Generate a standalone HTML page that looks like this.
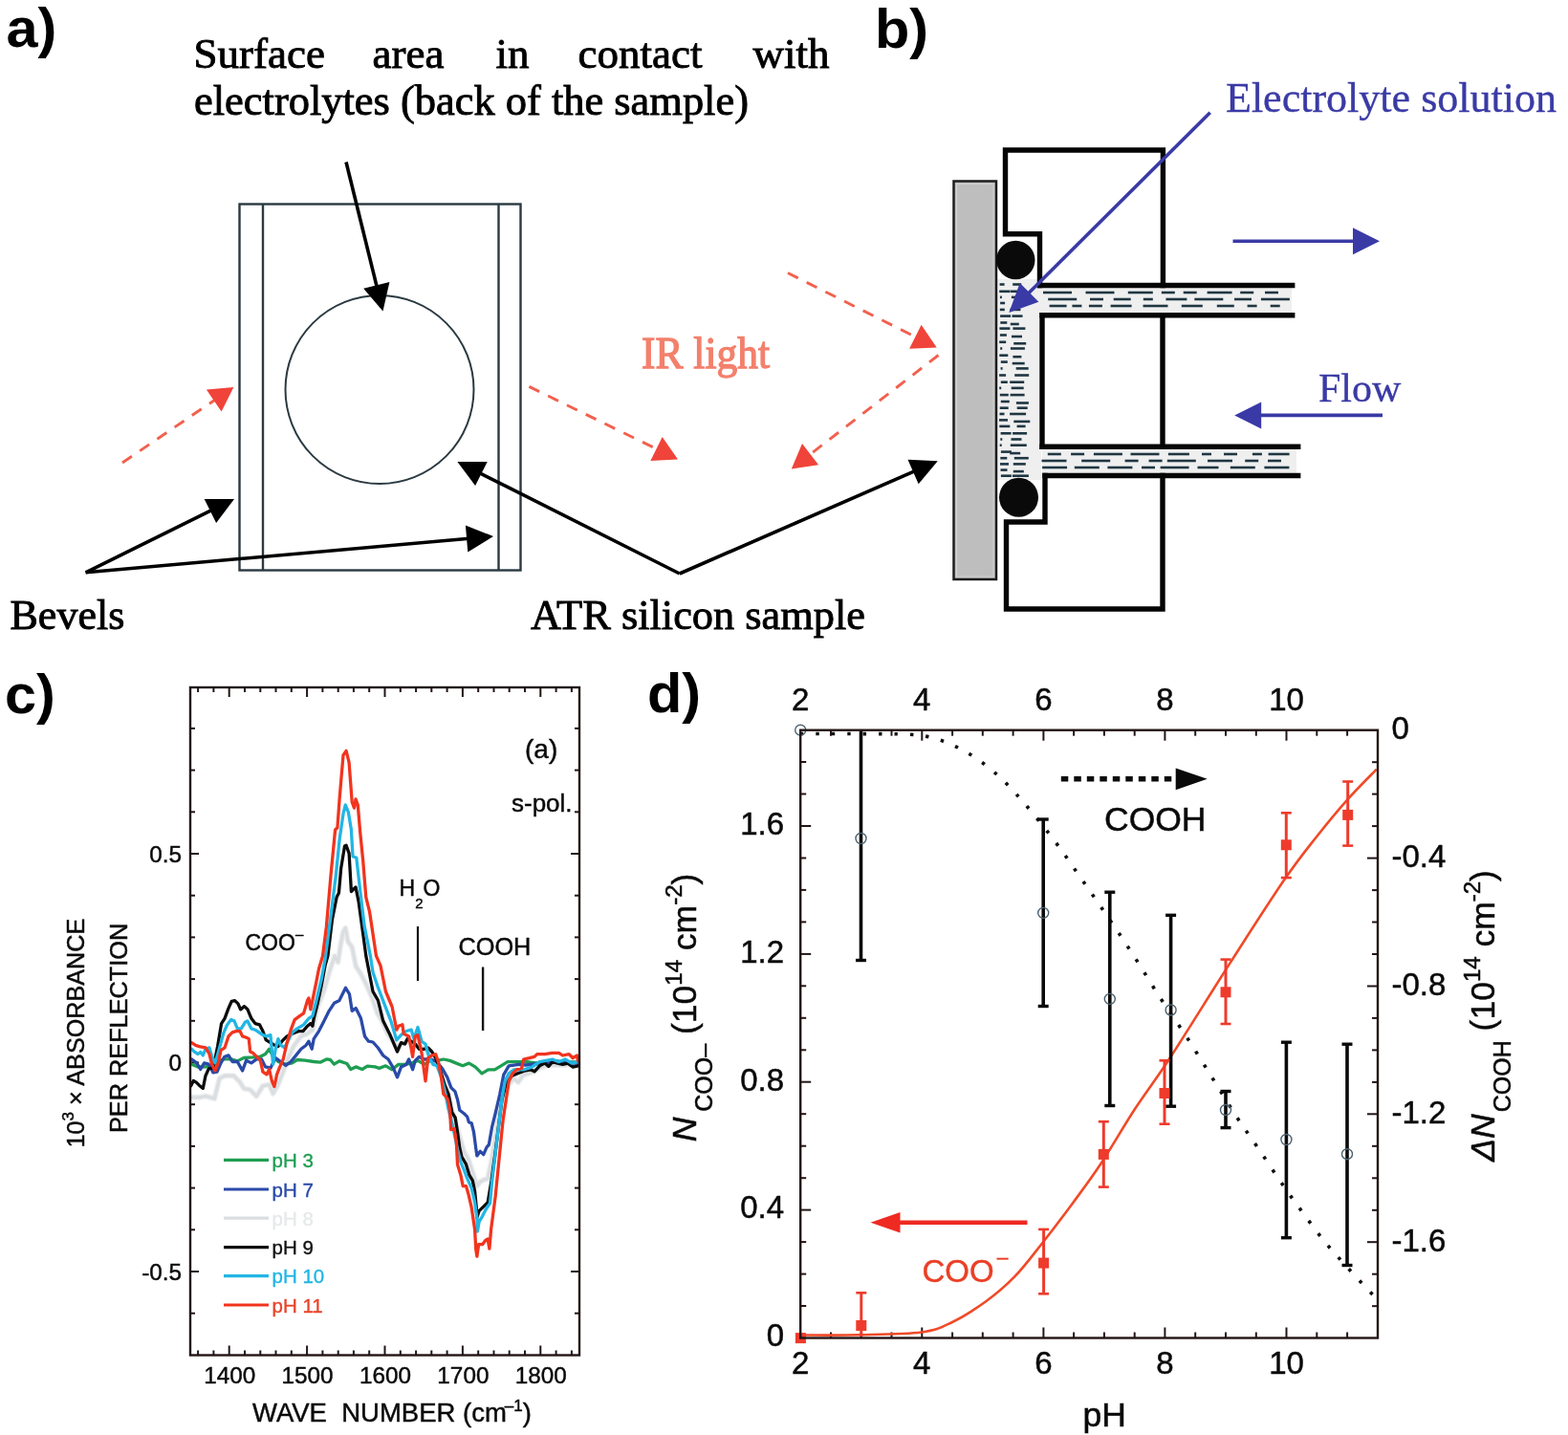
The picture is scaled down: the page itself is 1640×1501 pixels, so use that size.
<!DOCTYPE html>
<html><head><meta charset="utf-8"><title>Figure</title>
<style>
html,body{margin:0;padding:0;background:#fff;}
svg{display:block;}
.ser{font-family:"Liberation Serif","Times New Roman",serif;}
.san{font-family:"Liberation Sans",Arial,Helvetica,sans-serif;}
.lab{font-family:"Liberation Sans",Arial,sans-serif;font-weight:bold;}
</style></head><body>
<svg width="1640" height="1501" viewBox="0 0 1640 1501">
<rect x="0" y="0" width="1640" height="1501" fill="#ffffff"/>
<text class="lab" transform="translate(6.5,49) scale(1.025,1)" font-size="58">a)</text>
<text class="lab" transform="translate(915,49.5) scale(1.025,1)" font-size="58">b)</text>
<text class="lab" transform="translate(5,745.6) scale(1.025,1)" font-size="58">c)</text>
<text class="lab" transform="translate(677,745.4) scale(1.025,1)" font-size="58">d)</text>
<g class="ser" fill="#000" stroke="#000" stroke-width="0.9">
<text x="202.5" y="71" font-size="45">Surface</text>
<text x="389.5" y="71" font-size="45">area</text>
<text x="518.5" y="71" font-size="45">in</text>
<text x="604.5" y="71" font-size="45">contact</text>
<text x="787.5" y="71" font-size="45">with</text>
<text x="203" y="120" font-size="45" textLength="580" lengthAdjust="spacingAndGlyphs">electrolytes (back of the sample)</text>
<text x="10.5" y="658.3" font-size="44">Bevels</text>
<text x="555" y="658" font-size="45" textLength="350" lengthAdjust="spacingAndGlyphs">ATR silicon sample</text>
</g>
<text class="ser" x="671" y="385" font-size="47" fill="#f3806c" stroke="#f3806c" stroke-width="1.3" textLength="134" lengthAdjust="spacingAndGlyphs">IR light</text>
<g fill="none" stroke="#2b3a42" stroke-width="2.4">
<rect x="250.5" y="213.5" width="294" height="383"/>
<line x1="275" y1="213.5" x2="275" y2="596.5"/>
<line x1="521.5" y1="213.5" x2="521.5" y2="596.5"/>
<circle cx="397" cy="407.5" r="98.5" stroke-width="2"/>
</g>
<line x1="362" y1="169.5" x2="395.8" y2="306.6" stroke="#000" stroke-width="3.6" />
<polygon points="400.5,325.6 380.2,301.8 407.4,295.1" fill="#000"/>
<line x1="89.6" y1="598.8" x2="227.4" y2="530.7" stroke="#000" stroke-width="3.6" />
<polygon points="245,522 226.1,547 213.7,521.9" fill="#000"/>
<line x1="89.6" y1="598.8" x2="496.5" y2="562.7" stroke="#000" stroke-width="3.6" />
<polygon points="516,561 489.3,577.4 486.9,549.5" fill="#000"/>
<line x1="710.8" y1="600" x2="495.9" y2="491.8" stroke="#000" stroke-width="3.6" />
<polygon points="478.4,483 509.7,483.1 497.1,508.1" fill="#000"/>
<line x1="710.8" y1="600" x2="962.8" y2="490.1" stroke="#000" stroke-width="3.6" />
<polygon points="980.8,482.3 960.7,506.3 949.5,480.7" fill="#000"/>
<line x1="128" y1="484" x2="229.9" y2="414.8" stroke="#f2604e" stroke-width="2.9" stroke-dasharray="12 10" />
<polygon points="244.4,405 231.6,430.6 215.9,407.5" fill="#f0443a"/>
<line x1="553.4" y1="404.4" x2="693.3" y2="472.8" stroke="#f2604e" stroke-width="2.9" stroke-dasharray="12 10" />
<polygon points="709,480.5 680.4,482.1 692.7,456.9" fill="#f0443a"/>
<line x1="824" y1="285.5" x2="964" y2="355.6" stroke="#f2604e" stroke-width="2.9" stroke-dasharray="12 10" />
<polygon points="979.7,363.4 951.1,364.7 963.6,339.7" fill="#f0443a"/>
<line x1="981.5" y1="371.5" x2="841.6" y2="479.7" stroke="#f2604e" stroke-width="2.9" stroke-dasharray="12 10" />
<polygon points="827.8,490.4 839,464 856.1,486.2" fill="#f0443a"/>
<rect x="1043" y="292" width="46" height="210" fill="#efefef"/>
<rect x="1087" y="300" width="264" height="28" fill="#efefef"/>
<rect x="1090" y="469" width="266" height="27" fill="#efefef"/>
<g stroke="#1f3642" stroke-width="2.6">
<line x1="1045.6" y1="297.5" x2="1050.6" y2="297.5"/>
<line x1="1059.2" y1="297.5" x2="1068.2" y2="297.5"/>
<line x1="1045.2" y1="304.8" x2="1056.2" y2="304.8"/>
<line x1="1056.5" y1="304.8" x2="1073.5" y2="304.8"/>
<line x1="1045.9" y1="310.9" x2="1047.9" y2="310.9"/>
<line x1="1057.9" y1="310.9" x2="1074.9" y2="310.9"/>
<line x1="1046.1" y1="317" x2="1051.1" y2="317"/>
<line x1="1061" y1="317" x2="1078" y2="317"/>
<line x1="1045.8" y1="323.9" x2="1050.8" y2="323.9"/>
<line x1="1056.4" y1="323.9" x2="1067.4" y2="323.9"/>
<line x1="1046.1" y1="330.6" x2="1057.1" y2="330.6"/>
<line x1="1058.5" y1="330.6" x2="1069.5" y2="330.6"/>
<line x1="1046.3" y1="337.5" x2="1053.3" y2="337.5"/>
<line x1="1056.8" y1="339" x2="1065.8" y2="339"/>
<line x1="1045.4" y1="343.6" x2="1056.4" y2="343.6"/>
<line x1="1059.4" y1="343.6" x2="1072.4" y2="343.6"/>
<line x1="1045.9" y1="350.5" x2="1052.9" y2="350.5"/>
<line x1="1058" y1="352" x2="1069" y2="352"/>
<line x1="1045.2" y1="357.8" x2="1052.2" y2="357.8"/>
<line x1="1060.2" y1="359.3" x2="1073.2" y2="359.3"/>
<line x1="1046.2" y1="364.5" x2="1048.2" y2="364.5"/>
<line x1="1056.9" y1="364.5" x2="1071.9" y2="364.5"/>
<line x1="1045.3" y1="371.7" x2="1054.3" y2="371.7"/>
<line x1="1059.4" y1="373.2" x2="1068.4" y2="373.2"/>
<line x1="1046.8" y1="378.6" x2="1053.8" y2="378.6"/>
<line x1="1058.7" y1="380.1" x2="1071.7" y2="380.1"/>
<line x1="1046.6" y1="385.4" x2="1048.6" y2="385.4"/>
<line x1="1062.7" y1="385.4" x2="1075.7" y2="385.4"/>
<line x1="1045.1" y1="392.5" x2="1052.1" y2="392.5"/>
<line x1="1061.2" y1="392.5" x2="1076.2" y2="392.5"/>
<line x1="1046.8" y1="399.7" x2="1053.8" y2="399.7"/>
<line x1="1056.2" y1="399.7" x2="1071.2" y2="399.7"/>
<line x1="1045.2" y1="405.9" x2="1047.2" y2="405.9"/>
<line x1="1057.7" y1="405.9" x2="1070.7" y2="405.9"/>
<line x1="1045.8" y1="413.1" x2="1054.8" y2="413.1"/>
<line x1="1056.6" y1="413.1" x2="1071.6" y2="413.1"/>
<line x1="1046.8" y1="420" x2="1055.8" y2="420"/>
<line x1="1062.9" y1="421.5" x2="1075.9" y2="421.5"/>
<line x1="1045.7" y1="426.7" x2="1054.7" y2="426.7"/>
<line x1="1063.7" y1="426.7" x2="1074.7" y2="426.7"/>
<line x1="1045.5" y1="433" x2="1050.5" y2="433"/>
<line x1="1056.1" y1="433" x2="1073.1" y2="433"/>
<line x1="1045" y1="439.4" x2="1054" y2="439.4"/>
<line x1="1060.3" y1="440.9" x2="1077.3" y2="440.9"/>
<line x1="1045.3" y1="445.9" x2="1056.3" y2="445.9"/>
<line x1="1063.6" y1="445.9" x2="1072.6" y2="445.9"/>
<line x1="1046.6" y1="453.3" x2="1057.6" y2="453.3"/>
<line x1="1059.1" y1="453.3" x2="1074.1" y2="453.3"/>
<line x1="1046.3" y1="459.5" x2="1048.3" y2="459.5"/>
<line x1="1057.5" y1="459.5" x2="1068.5" y2="459.5"/>
<line x1="1045.7" y1="465.7" x2="1047.7" y2="465.7"/>
<line x1="1056.8" y1="465.7" x2="1073.8" y2="465.7"/>
<line x1="1046.9" y1="472.6" x2="1057.9" y2="472.6"/>
<line x1="1056.2" y1="474.1" x2="1067.2" y2="474.1"/>
<line x1="1046.3" y1="479.2" x2="1053.3" y2="479.2"/>
<line x1="1060.8" y1="479.2" x2="1075.8" y2="479.2"/>
<line x1="1046" y1="485.4" x2="1055" y2="485.4"/>
<line x1="1059.8" y1="485.4" x2="1072.8" y2="485.4"/>
<line x1="1046.5" y1="491.6" x2="1053.5" y2="491.6"/>
<line x1="1059.8" y1="493.1" x2="1070.8" y2="493.1"/>
<line x1="1046.9" y1="497.7" x2="1057.9" y2="497.7"/>
<line x1="1058.9" y1="497.7" x2="1075.9" y2="497.7"/>
<line x1="1091" y1="306" x2="1121" y2="306"/>
<line x1="1135.5" y1="306" x2="1165.5" y2="306"/>
<line x1="1179.8" y1="306" x2="1205.8" y2="306"/>
<line x1="1214.8" y1="306" x2="1228.8" y2="306"/>
<line x1="1237.7" y1="306" x2="1251.7" y2="306"/>
<line x1="1262.6" y1="306" x2="1288.6" y2="306"/>
<line x1="1297.2" y1="306" x2="1311.2" y2="306"/>
<line x1="1323" y1="306" x2="1337" y2="306"/>
<line x1="1096.2" y1="313" x2="1126.2" y2="313"/>
<line x1="1140" y1="313" x2="1154" y2="313"/>
<line x1="1164.7" y1="313" x2="1182.7" y2="313"/>
<line x1="1195.8" y1="313" x2="1205.8" y2="313"/>
<line x1="1219.4" y1="313" x2="1241.4" y2="313"/>
<line x1="1249.3" y1="313" x2="1279.3" y2="313"/>
<line x1="1291" y1="313" x2="1309" y2="313"/>
<line x1="1318.9" y1="313" x2="1348.9" y2="313"/>
<line x1="1097.6" y1="320" x2="1115.6" y2="320"/>
<line x1="1121.4" y1="320" x2="1131.4" y2="320"/>
<line x1="1138.9" y1="320" x2="1152.9" y2="320"/>
<line x1="1161.6" y1="320" x2="1183.6" y2="320"/>
<line x1="1195.5" y1="320" x2="1221.5" y2="320"/>
<line x1="1235.8" y1="320" x2="1257.8" y2="320"/>
<line x1="1272.8" y1="320" x2="1290.8" y2="320"/>
<line x1="1304.6" y1="320" x2="1314.6" y2="320"/>
<line x1="1328.7" y1="320" x2="1338.7" y2="320"/>
<line x1="1095.8" y1="475" x2="1109.8" y2="475"/>
<line x1="1120.1" y1="475" x2="1134.1" y2="475"/>
<line x1="1143.9" y1="475" x2="1173.9" y2="475"/>
<line x1="1182.5" y1="475" x2="1212.5" y2="475"/>
<line x1="1221.9" y1="475" x2="1243.9" y2="475"/>
<line x1="1257" y1="475" x2="1267" y2="475"/>
<line x1="1280" y1="475" x2="1294" y2="475"/>
<line x1="1309.9" y1="475" x2="1319.9" y2="475"/>
<line x1="1326.6" y1="475" x2="1348.6" y2="475"/>
<line x1="1089.5" y1="482" x2="1115.5" y2="482"/>
<line x1="1131.2" y1="482" x2="1161.2" y2="482"/>
<line x1="1176.6" y1="482" x2="1190.6" y2="482"/>
<line x1="1201.6" y1="482" x2="1215.6" y2="482"/>
<line x1="1220.8" y1="482" x2="1250.8" y2="482"/>
<line x1="1263" y1="482" x2="1289" y2="482"/>
<line x1="1302.2" y1="482" x2="1316.2" y2="482"/>
<line x1="1326" y1="482" x2="1340" y2="482"/>
<line x1="1090.1" y1="489" x2="1116.1" y2="489"/>
<line x1="1123.8" y1="489" x2="1149.8" y2="489"/>
<line x1="1158.4" y1="489" x2="1184.4" y2="489"/>
<line x1="1194" y1="489" x2="1208" y2="489"/>
<line x1="1213.6" y1="489" x2="1243.6" y2="489"/>
<line x1="1252.5" y1="489" x2="1274.5" y2="489"/>
<line x1="1286.8" y1="489" x2="1312.8" y2="489"/>
<line x1="1322.4" y1="489" x2="1348.4" y2="489"/>
</g>
<rect x="997.5" y="189.5" width="44.5" height="416.5" fill="#bfbebf" stroke="#1c1c1c" stroke-width="2.5"/>
<rect x="1000.5" y="192.5" width="38.5" height="410.5" fill="none" stroke="#d0cfd0" stroke-width="1.2"/>
<g fill="none" stroke="#050505" stroke-width="5.4" stroke-linecap="square">
<polyline points="1087.5,298.5 1087.5,244.7 1051.5,244.7 1051.5,157 1216.4,157 1216.4,298.5"/>
<line x1="1087.5" y1="298.5" x2="1351.7" y2="298.5"/>
<line x1="1090" y1="329.7" x2="1351.7" y2="329.7"/>
<line x1="1090" y1="329.7" x2="1090" y2="467.3"/>
<line x1="1090" y1="467.3" x2="1357.7" y2="467.3"/>
<line x1="1216" y1="329.7" x2="1216" y2="467.3"/>
<line x1="1093" y1="497.5" x2="1357.7" y2="497.5"/>
<polyline points="1093,497.5 1093,546 1052.5,546 1052.5,637 1216,637 1216,497.5"/>
</g>
<circle cx="1062.3" cy="272" r="20.2" fill="#0a0a0a"/>
<circle cx="1065.5" cy="520.3" r="20.5" fill="#0a0a0a"/>
<line x1="1265.7" y1="117.7" x2="1070.2" y2="312.2" stroke="#3a3aa6" stroke-width="3.6" />
<polygon points="1055.3,327 1066.7,295.9 1086.4,315.8" fill="#3a3aa6"/>
<line x1="1289.5" y1="252.2" x2="1423.4" y2="252.2" stroke="#3a3aa6" stroke-width="3.6" />
<polygon points="1443,252.2 1415,266.2 1415,238.2" fill="#3a3aa6"/>
<line x1="1446" y1="434.4" x2="1310.8" y2="434.4" stroke="#3a3aa6" stroke-width="3.6" />
<polygon points="1291.2,434.4 1319.2,420.4 1319.2,448.4" fill="#3a3aa6"/>
<text class="ser" x="1282" y="117" font-size="44" fill="#3a3aa6" stroke="#3a3aa6" stroke-width="0.35" textLength="346" lengthAdjust="spacingAndGlyphs">Electrolyte solution</text>
<text class="ser" x="1379" y="419.5" font-size="42" fill="#3a3aa6" stroke="#3a3aa6" stroke-width="0.35">Flow</text>
<g stroke="#231515" stroke-width="2">
<line x1="207.1" y1="1417.5" x2="207.1" y2="1412.5"/>
<line x1="207.1" y1="719" x2="207.1" y2="724"/>
<line x1="223.4" y1="1417.5" x2="223.4" y2="1412.5"/>
<line x1="223.4" y1="719" x2="223.4" y2="724"/>
<line x1="239.7" y1="1417.5" x2="239.7" y2="1407.5"/>
<line x1="239.7" y1="719" x2="239.7" y2="729"/>
<line x1="256" y1="1417.5" x2="256" y2="1412.5"/>
<line x1="256" y1="719" x2="256" y2="724"/>
<line x1="272.3" y1="1417.5" x2="272.3" y2="1412.5"/>
<line x1="272.3" y1="719" x2="272.3" y2="724"/>
<line x1="288.5" y1="1417.5" x2="288.5" y2="1412.5"/>
<line x1="288.5" y1="719" x2="288.5" y2="724"/>
<line x1="304.8" y1="1417.5" x2="304.8" y2="1412.5"/>
<line x1="304.8" y1="719" x2="304.8" y2="724"/>
<line x1="321.1" y1="1417.5" x2="321.1" y2="1407.5"/>
<line x1="321.1" y1="719" x2="321.1" y2="729"/>
<line x1="337.4" y1="1417.5" x2="337.4" y2="1412.5"/>
<line x1="337.4" y1="719" x2="337.4" y2="724"/>
<line x1="353.7" y1="1417.5" x2="353.7" y2="1412.5"/>
<line x1="353.7" y1="719" x2="353.7" y2="724"/>
<line x1="369.9" y1="1417.5" x2="369.9" y2="1412.5"/>
<line x1="369.9" y1="719" x2="369.9" y2="724"/>
<line x1="386.2" y1="1417.5" x2="386.2" y2="1412.5"/>
<line x1="386.2" y1="719" x2="386.2" y2="724"/>
<line x1="402.5" y1="1417.5" x2="402.5" y2="1407.5"/>
<line x1="402.5" y1="719" x2="402.5" y2="729"/>
<line x1="418.8" y1="1417.5" x2="418.8" y2="1412.5"/>
<line x1="418.8" y1="719" x2="418.8" y2="724"/>
<line x1="435.1" y1="1417.5" x2="435.1" y2="1412.5"/>
<line x1="435.1" y1="719" x2="435.1" y2="724"/>
<line x1="451.3" y1="1417.5" x2="451.3" y2="1412.5"/>
<line x1="451.3" y1="719" x2="451.3" y2="724"/>
<line x1="467.6" y1="1417.5" x2="467.6" y2="1412.5"/>
<line x1="467.6" y1="719" x2="467.6" y2="724"/>
<line x1="483.9" y1="1417.5" x2="483.9" y2="1407.5"/>
<line x1="483.9" y1="719" x2="483.9" y2="729"/>
<line x1="500.2" y1="1417.5" x2="500.2" y2="1412.5"/>
<line x1="500.2" y1="719" x2="500.2" y2="724"/>
<line x1="516.5" y1="1417.5" x2="516.5" y2="1412.5"/>
<line x1="516.5" y1="719" x2="516.5" y2="724"/>
<line x1="532.7" y1="1417.5" x2="532.7" y2="1412.5"/>
<line x1="532.7" y1="719" x2="532.7" y2="724"/>
<line x1="549" y1="1417.5" x2="549" y2="1412.5"/>
<line x1="549" y1="719" x2="549" y2="724"/>
<line x1="565.3" y1="1417.5" x2="565.3" y2="1407.5"/>
<line x1="565.3" y1="719" x2="565.3" y2="729"/>
<line x1="581.6" y1="1417.5" x2="581.6" y2="1412.5"/>
<line x1="581.6" y1="719" x2="581.6" y2="724"/>
<line x1="597.9" y1="1417.5" x2="597.9" y2="1412.5"/>
<line x1="597.9" y1="719" x2="597.9" y2="724"/>
<line x1="199" y1="1373.7" x2="204" y2="1373.7"/>
<line x1="606" y1="1373.7" x2="601" y2="1373.7"/>
<line x1="199" y1="1330" x2="208" y2="1330"/>
<line x1="606" y1="1330" x2="597" y2="1330"/>
<line x1="199" y1="1286.3" x2="204" y2="1286.3"/>
<line x1="606" y1="1286.3" x2="601" y2="1286.3"/>
<line x1="199" y1="1242.6" x2="204" y2="1242.6"/>
<line x1="606" y1="1242.6" x2="601" y2="1242.6"/>
<line x1="199" y1="1198.9" x2="204" y2="1198.9"/>
<line x1="606" y1="1198.9" x2="601" y2="1198.9"/>
<line x1="199" y1="1155.2" x2="204" y2="1155.2"/>
<line x1="606" y1="1155.2" x2="601" y2="1155.2"/>
<line x1="199" y1="1111.5" x2="208" y2="1111.5"/>
<line x1="606" y1="1111.5" x2="597" y2="1111.5"/>
<line x1="199" y1="1067.8" x2="204" y2="1067.8"/>
<line x1="606" y1="1067.8" x2="601" y2="1067.8"/>
<line x1="199" y1="1024.1" x2="204" y2="1024.1"/>
<line x1="606" y1="1024.1" x2="601" y2="1024.1"/>
<line x1="199" y1="980.4" x2="204" y2="980.4"/>
<line x1="606" y1="980.4" x2="601" y2="980.4"/>
<line x1="199" y1="936.7" x2="204" y2="936.7"/>
<line x1="606" y1="936.7" x2="601" y2="936.7"/>
<line x1="199" y1="893" x2="208" y2="893"/>
<line x1="606" y1="893" x2="597" y2="893"/>
<line x1="199" y1="849.3" x2="204" y2="849.3"/>
<line x1="606" y1="849.3" x2="601" y2="849.3"/>
<line x1="199" y1="805.6" x2="204" y2="805.6"/>
<line x1="606" y1="805.6" x2="601" y2="805.6"/>
<line x1="199" y1="761.9" x2="204" y2="761.9"/>
<line x1="606" y1="761.9" x2="601" y2="761.9"/>
</g>
<g fill="none" stroke-width="3.3" stroke-linejoin="round" stroke-linecap="round">
<polyline stroke="#eceeef" stroke-width="6" points="200.3,1147.8 208.3,1147.8 215,1146.5 224.3,1149.2 229.6,1127.9 235,1125.2 244.3,1125.2 251,1131.9 255,1138.5 261.6,1139.9 268.3,1146.5 274.9,1135.9 281.6,1134.5 285.6,1143.8 290.9,1134.5 296.2,1121.2 301.6,1106.5 306.9,1094.6 314.9,1083.9 321.5,1081.2 326.9,1077.2 332.2,1053.3 338.9,1035.9 345,1015 350,1000 353.5,1006.6 356,990 358.8,975 361.3,970.8 364,985 368.2,990.7 372.2,1010.6 377,1018 381.5,1026.6 388.2,1041.3 394.8,1059.9 398.8,1066.6 405,1080 415,1095 425,1090 435,1092 445,1098 455,1108 462,1125 470,1150 478,1180 485.3,1204.3 489.8,1212.3 494,1225 498.9,1240.6 502.3,1236 506.8,1233.8 510.2,1232.6 514,1215 518,1190 522,1165 528,1140 537,1128 542,1132 547,1125 555,1122 565,1117 575,1114 590,1114 604,1113"/>
<polyline stroke="#dadee0" points="200.3,1147.8 208.3,1147.8 215,1146.5 224.3,1149.2 229.6,1127.9 235,1125.2 244.3,1125.2 251,1131.9 255,1138.5 261.6,1139.9 268.3,1146.5 274.9,1135.9 281.6,1134.5 285.6,1143.8 290.9,1134.5 296.2,1121.2 301.6,1106.5 306.9,1094.6 314.9,1083.9 321.5,1081.2 326.9,1077.2 332.2,1053.3 338.9,1035.9 345,1015 350,1000 353.5,1006.6 356,990 358.8,975 361.3,970.8 364,985 368.2,990.7 372.2,1010.6 377,1018 381.5,1026.6 388.2,1041.3 394.8,1059.9 398.8,1066.6 405,1080 415,1095 425,1090 435,1092 445,1098 455,1108 462,1125 470,1150 478,1180 485.3,1204.3 489.8,1212.3 494,1225 498.9,1240.6 502.3,1236 506.8,1233.8 510.2,1232.6 514,1215 518,1190 522,1165 528,1140 537,1128 542,1132 547,1125 555,1122 565,1117 575,1114 590,1114 604,1113"/>
<polyline stroke="#1e9e52" points="200.3,1113.2 207,1116 215,1115.9 221.6,1114.5 228.3,1110.5 233.6,1107.9 241.6,1107.9 248.3,1109.9 255,1106.5 264.3,1105.9 272.3,1105.2 277.6,1102.5 281.6,1097.2 285,1104 290.9,1110.5 298.9,1113.2 305.6,1111.9 310.9,1108.5 318.9,1109.2 328.2,1110.5 334.9,1111.2 341.5,1107.9 345.5,1108.5 349.5,1113.2 354.9,1109.9 362.8,1112.5 366.8,1118.5 372.2,1115.9 378.8,1118.5 384.2,1115.2 392.2,1115.9 396.7,1117.4 403.4,1114.8 410.1,1118.8 416.8,1113.4 423.5,1113.4 430.2,1112.1 437,1109.4 443.7,1113.4 450.4,1109.4 457.1,1109.4 463.8,1108 470.5,1109.4 477.2,1112.1 483.9,1114.8 490.6,1112.1 497.3,1116.1 504,1122.8 510.7,1118.8 517.4,1118.8 524.1,1114.8 530.9,1110.7 537.6,1110.7 544.3,1110.7 551,1110.7 560,1112 570,1111 580,1110 590,1111 600,1111 604.6,1111"/>
<polyline stroke="#2a4aa8" points="200.3,1107.9 205.7,1111.9 209.7,1118.5 213.6,1111.9 218.3,1113.2 223,1121.9 227,1121.2 231,1111.9 235,1105.2 239,1103.9 243,1110.5 248.3,1110.5 253.6,1119.9 257.6,1109.2 262.9,1111.9 268.3,1107.9 273.6,1107.9 277.6,1115.9 282.9,1117.2 288.2,1106.5 293.6,1110.5 298.9,1114.5 304.2,1110.5 309.6,1103.9 314.9,1097.2 320.2,1093.2 322.9,1089.2 326.2,1097.2 328.2,1086.6 333.5,1078.6 338.9,1067.9 344.2,1057.3 349.5,1049.3 354.9,1046.6 361.5,1033.3 365.5,1039.9 368.2,1057.3 372.2,1054.6 377.5,1065.3 381.5,1083.9 385.5,1089.2 390,1090 395.4,1096 400.7,1104 406.1,1108 411.5,1117.4 415.5,1126.8 419.5,1116.1 424.9,1113.4 427.6,1108 431.6,1118.8 434.3,1109.4 438.3,1105.4 443.7,1108 450.4,1108 457.1,1110.7 462.4,1117.4 467.8,1126.8 471.8,1137.6 475.9,1141.6 478.5,1150 480.8,1161.3 485.3,1164.7 488.7,1168.1 490.4,1173.8 493.2,1174.9 495.5,1184 497.7,1200.9 498.9,1208.9 502.3,1204.3 505.7,1207.7 509.1,1199.8 511.3,1197.5 514.7,1178.3 518.1,1164.7 521.5,1150 522.8,1144.3 526.8,1124.1 532.2,1114.8 537.6,1114.1 543,1113.4 550,1114 560,1113 570,1112 580,1110 590,1111 600,1112 604.6,1112"/>
<polyline stroke="#0c0c0c" points="199.7,1135.9 202.3,1130.5 205,1131.9 208.3,1135.2 212.3,1138.5 215,1125.2 218.3,1117.9 223,1117.2 227.6,1094.6 231.6,1070.6 235,1065.3 239,1054.6 242.3,1047.3 245.6,1046.6 249,1049.9 251.6,1055.9 255.6,1052.6 259,1055.9 262.9,1065.3 266.9,1070.6 271.6,1071.9 274.9,1078.6 278.3,1087.9 282.9,1090.6 286.9,1093.2 290.9,1094.6 294.9,1089.2 300.2,1083.9 305.6,1081.2 312.2,1078.6 316.9,1078.6 321.5,1073.2 324.9,1070.6 326.9,1073.2 328.2,1065.3 332.2,1049.3 336.2,1030.6 340.2,1009.3 342.9,999.9 347.5,961.6 352.1,938.6 354.4,934 356.7,907.9 360.5,884.9 362.1,884.2 365.1,892.6 367.4,932.5 372,927.9 375.1,943.2 379.7,976.9 382.8,999.9 390,1037 395.4,1046.3 400.7,1067.8 407.4,1081.2 415.5,1100 419.5,1090.6 423.5,1092 426.2,1086.6 434.3,1092 438.3,1097.3 443.7,1097.3 447.7,1096 451.7,1100 455.7,1106.7 459.8,1117.4 465.1,1134.9 469.1,1144.3 472.8,1163.6 476.2,1169.2 478.5,1184 480.8,1200.9 483,1210 487.5,1217.9 490.9,1229.2 494.3,1234.9 496.6,1246.2 498.3,1263.2 498.9,1273.4 501.1,1266.6 505.7,1262.1 510.2,1257.6 514,1235 518,1206 521.5,1178 525,1150 529,1135 534.9,1125.5 541.6,1122.8 548.3,1120.1 555,1118.8 559,1120.8 564.4,1114.8 569.8,1112.1 573.8,1115.4 577.8,1110.7 583.2,1112.1 588.5,1113.4 593.9,1112.1 599.3,1116.1 604.6,1114.8"/>
<polyline stroke="#22b6e4" points="200.3,1097.2 203,1099.9 207,1102.5 209.7,1100.6 212.3,1103.9 215,1097.2 219,1095.9 221.6,1105.2 225,1111.9 229.6,1095.9 233.6,1081.2 237.6,1071.9 241.6,1066.6 245,1067.9 248.3,1075.9 252.3,1075.9 256.3,1069.3 258.9,1067.9 262.9,1075.9 266.9,1077.2 270.9,1079.9 274.9,1082.6 278.9,1083.9 282.9,1082.6 285.6,1113.2 288.2,1097.2 290.9,1086.6 293.6,1093.2 297.6,1095.9 301.6,1087.9 305.6,1079.9 310.9,1075.9 317.6,1071.9 322.9,1065.3 326.9,1062.6 330.9,1046.6 336.2,1024 340.2,1002.6 347.5,946.2 351.3,915.6 355.2,877.3 359,851.2 361.3,842 364.4,849.7 367.4,868.1 369,895.7 372.8,897.2 376.6,930.9 381.2,969.2 387.4,999.9 390,1016.8 395.4,1032.9 402.1,1050.4 408.8,1067.8 414.8,1087.9 419.5,1082.6 424.9,1078.5 430.2,1077.2 432.9,1086.6 437,1074.5 441,1089.3 445,1092 449,1106.7 453,1113.4 457.1,1114.8 461,1125 465,1140 469,1160 474,1180 478,1200 481.9,1215.7 485.3,1223.6 488.7,1232.6 493.2,1242.8 496.6,1257.6 498.9,1274.5 499.4,1288.1 501.1,1277.9 504.5,1272.3 507.9,1265.5 510.8,1261 512.5,1258.7 514.7,1234.9 518.1,1206.6 521.5,1178.3 524.9,1150 528.2,1130.9 532.2,1122.8 537.6,1118.8 548.3,1118.8 556.3,1116.1 564.4,1110.7 571.1,1109.4 577.8,1108 584.5,1110.7 591.2,1108 597.9,1112.1 604.6,1110.7"/>
<polyline stroke="#f2341e" points="200.3,1090.6 204.3,1093.2 208.3,1094.6 215,1095.9 219,1102.5 221.6,1113.2 225,1119.9 228.3,1111.9 231,1098.6 235,1095.9 239,1083.9 243,1079.9 247,1078.6 251,1078.6 253.6,1083.9 257.6,1085.2 260.3,1086.6 261.6,1099.9 264.3,1101.2 268.3,1105.2 272.3,1109.2 274.9,1121.2 278.9,1123.9 281.6,1118.5 284.3,1130.5 286.9,1136.5 289.6,1123.9 292.2,1117.2 296.2,1107.9 300.2,1090.6 304.2,1077.2 308.2,1066.6 313.6,1062.6 317.6,1059.9 321.5,1046.6 322.9,1043.9 324.9,1055.9 328.2,1039.9 330.9,1026.6 333.5,1013.3 337.5,1000 341.4,969.2 346,915.6 350.6,868 352.9,865.8 355.2,834.4 359,789.9 362.1,785.3 365.1,797.6 368.2,839 370.5,845.1 372,835.9 374.3,842 376.6,869.6 379.7,900.3 382.8,938.6 386.6,953.9 393.5,999.9 398,1010.1 403.4,1037 410.1,1053 414.8,1077.2 416.8,1073.2 420.9,1071.8 422.2,1081.2 427.6,1083.9 430.2,1097.3 431.6,1105.4 434.3,1083.9 437,1082.6 441,1101.3 445,1130.9 447.7,1106.7 451.7,1104 455.7,1102.7 458.4,1110.7 461.1,1124.1 463.8,1144.3 466.5,1147 468.3,1150 470.6,1161.3 471.7,1181.7 475.1,1180.6 477.4,1195.3 478.5,1217.9 481.9,1229.2 484.2,1240.6 487.5,1240.6 489.8,1248.5 493.2,1263.2 496.6,1285.9 497.7,1306.2 498.9,1314.2 500.6,1301.7 504.5,1301.7 507.9,1297.2 510.2,1296 511.9,1306.2 513.6,1285.9 518.1,1251.9 522.6,1206.6 526,1172.6 529.4,1150 532.2,1130.9 536.2,1122.8 540.2,1118.8 545.6,1117.4 547.6,1108 553.7,1106.7 559,1105.4 561.7,1102.7 569.8,1102.7 577.8,1101.3 584.5,1101.3 588.5,1104 595.2,1102.7 599.3,1106.7 603.3,1104 604.6,1110"/>
</g>
<rect x="199" y="719" width="407" height="698.5" fill="none" stroke="#231515" stroke-width="2.4"/>
<line x1="437" y1="969" x2="437" y2="1026" stroke="#111" stroke-width="2.2"/>
<line x1="505.1" y1="1011.5" x2="505.1" y2="1078" stroke="#111" stroke-width="2.4"/>
<line x1="234" y1="1213.3" x2="281" y2="1213.3" stroke="#1e9e52" stroke-width="3.2"/>
<text class="san" x="284.5" y="1221.1" font-size="20.5" fill="#1e9e52" stroke="#1e9e52" stroke-width="0.35">pH 3</text>
<line x1="234" y1="1244" x2="281" y2="1244" stroke="#2a4aa8" stroke-width="3.2"/>
<text class="san" x="284.5" y="1251.8" font-size="20.5" fill="#2a4aa8" stroke="#2a4aa8" stroke-width="0.35">pH 7</text>
<line x1="234" y1="1274.2" x2="281" y2="1274.2" stroke="#dadee0" stroke-width="3.2"/>
<text class="san" x="284.5" y="1282" font-size="20.5" fill="#e6e9ea" stroke="#e6e9ea" stroke-width="0.35">pH 8</text>
<line x1="234" y1="1304.6" x2="281" y2="1304.6" stroke="#0c0c0c" stroke-width="3.2"/>
<text class="san" x="284.5" y="1312.4" font-size="20.5" fill="#111" stroke="#111" stroke-width="0.35">pH 9</text>
<line x1="234" y1="1334.6" x2="281" y2="1334.6" stroke="#22b6e4" stroke-width="3.2"/>
<text class="san" x="284.5" y="1342.4" font-size="20.5" fill="#22b6e4" stroke="#22b6e4" stroke-width="0.35">pH 10</text>
<line x1="234" y1="1365" x2="281" y2="1365" stroke="#f2341e" stroke-width="3.2"/>
<text class="san" x="284.5" y="1372.8" font-size="20.5" fill="#e8442a" stroke="#e8442a" stroke-width="0.35">pH 11</text>
<g class="san" fill="#0a0a0a" stroke="#0a0a0a" stroke-width="0.45">
<text x="240.2" y="1447" font-size="24.3" text-anchor="middle">1400</text>
<text x="321.6" y="1447" font-size="24.3" text-anchor="middle">1500</text>
<text x="403" y="1447" font-size="24.3" text-anchor="middle">1600</text>
<text x="484.4" y="1447" font-size="24.3" text-anchor="middle">1700</text>
<text x="565.8" y="1447" font-size="24.3" text-anchor="middle">1800</text>
<text x="190" y="901.8" font-size="24.3" text-anchor="end">0.5</text>
<text x="190" y="1120.3" font-size="24.3" text-anchor="end">0</text>
<text x="190" y="1338.8" font-size="24.3" text-anchor="end">-0.5</text>
<text x="264" y="1486.8" font-size="27.5">WAVE&#160; NUMBER (cm<tspan dx="-2" dy="-11" font-size="17">&#8211;1</tspan><tspan dy="11">)</tspan></text>
<text x="549" y="793" font-size="28">(a)</text>
<text x="535" y="848.5" font-size="26">s-pol.</text>
<text x="256.5" y="993.6" font-size="23">COO<tspan dy="-12" font-size="15">&#8211;</tspan></text>
<text x="417.5" y="937.2" font-size="23">H<tspan dy="13" font-size="15">2</tspan><tspan dy="-13">O</tspan></text>
<text x="479.5" y="998.8" font-size="25.3">COOH</text>
<text transform="translate(88,1080.6) rotate(-90)" font-size="25.2" text-anchor="middle">10<tspan dy="-11" font-size="17">3</tspan><tspan dy="11"> &#215; ABSORBANCE</tspan></text>
<text transform="translate(133.3,1075.4) rotate(-90)" font-size="25.3" text-anchor="middle">PER REFLECTION</text>
</g>
<g stroke="#231515" stroke-width="2">
<line x1="869" y1="1399.5" x2="869" y2="1393.5"/>
<line x1="869" y1="763.7" x2="869" y2="769.7"/>
<line x1="900.7" y1="1399.5" x2="900.7" y2="1393.5"/>
<line x1="900.7" y1="763.7" x2="900.7" y2="769.7"/>
<line x1="932.5" y1="1399.5" x2="932.5" y2="1393.5"/>
<line x1="932.5" y1="763.7" x2="932.5" y2="769.7"/>
<line x1="964.3" y1="1399.5" x2="964.3" y2="1388.5"/>
<line x1="964.3" y1="763.7" x2="964.3" y2="774.7"/>
<line x1="996.1" y1="1399.5" x2="996.1" y2="1393.5"/>
<line x1="996.1" y1="763.7" x2="996.1" y2="769.7"/>
<line x1="1027.8" y1="1399.5" x2="1027.8" y2="1393.5"/>
<line x1="1027.8" y1="763.7" x2="1027.8" y2="769.7"/>
<line x1="1059.6" y1="1399.5" x2="1059.6" y2="1393.5"/>
<line x1="1059.6" y1="763.7" x2="1059.6" y2="769.7"/>
<line x1="1091.4" y1="1399.5" x2="1091.4" y2="1388.5"/>
<line x1="1091.4" y1="763.7" x2="1091.4" y2="774.7"/>
<line x1="1123.1" y1="1399.5" x2="1123.1" y2="1393.5"/>
<line x1="1123.1" y1="763.7" x2="1123.1" y2="769.7"/>
<line x1="1154.9" y1="1399.5" x2="1154.9" y2="1393.5"/>
<line x1="1154.9" y1="763.7" x2="1154.9" y2="769.7"/>
<line x1="1186.7" y1="1399.5" x2="1186.7" y2="1393.5"/>
<line x1="1186.7" y1="763.7" x2="1186.7" y2="769.7"/>
<line x1="1218.4" y1="1399.5" x2="1218.4" y2="1388.5"/>
<line x1="1218.4" y1="763.7" x2="1218.4" y2="774.7"/>
<line x1="1250.2" y1="1399.5" x2="1250.2" y2="1393.5"/>
<line x1="1250.2" y1="763.7" x2="1250.2" y2="769.7"/>
<line x1="1282" y1="1399.5" x2="1282" y2="1393.5"/>
<line x1="1282" y1="763.7" x2="1282" y2="769.7"/>
<line x1="1313.8" y1="1399.5" x2="1313.8" y2="1393.5"/>
<line x1="1313.8" y1="763.7" x2="1313.8" y2="769.7"/>
<line x1="1345.5" y1="1399.5" x2="1345.5" y2="1388.5"/>
<line x1="1345.5" y1="763.7" x2="1345.5" y2="774.7"/>
<line x1="1377.3" y1="1399.5" x2="1377.3" y2="1393.5"/>
<line x1="1377.3" y1="763.7" x2="1377.3" y2="769.7"/>
<line x1="1409.1" y1="1399.5" x2="1409.1" y2="1393.5"/>
<line x1="1409.1" y1="763.7" x2="1409.1" y2="769.7"/>
<line x1="837.2" y1="1366" x2="843.2" y2="1366"/>
<line x1="837.2" y1="1332.6" x2="843.2" y2="1332.6"/>
<line x1="837.2" y1="1299.1" x2="843.2" y2="1299.1"/>
<line x1="837.2" y1="1265.6" x2="848.2" y2="1265.6"/>
<line x1="837.2" y1="1232.2" x2="843.2" y2="1232.2"/>
<line x1="837.2" y1="1198.7" x2="843.2" y2="1198.7"/>
<line x1="837.2" y1="1165.2" x2="843.2" y2="1165.2"/>
<line x1="837.2" y1="1131.7" x2="848.2" y2="1131.7"/>
<line x1="837.2" y1="1098.3" x2="843.2" y2="1098.3"/>
<line x1="837.2" y1="1064.8" x2="843.2" y2="1064.8"/>
<line x1="837.2" y1="1031.3" x2="843.2" y2="1031.3"/>
<line x1="837.2" y1="997.9" x2="848.2" y2="997.9"/>
<line x1="837.2" y1="964.4" x2="843.2" y2="964.4"/>
<line x1="837.2" y1="930.9" x2="843.2" y2="930.9"/>
<line x1="837.2" y1="897.5" x2="843.2" y2="897.5"/>
<line x1="837.2" y1="864" x2="848.2" y2="864"/>
<line x1="837.2" y1="830.5" x2="843.2" y2="830.5"/>
<line x1="837.2" y1="797" x2="843.2" y2="797"/>
<line x1="1441" y1="797.2" x2="1435" y2="797.2"/>
<line x1="1441" y1="830.6" x2="1435" y2="830.6"/>
<line x1="1441" y1="864.1" x2="1435" y2="864.1"/>
<line x1="1441" y1="897.6" x2="1430" y2="897.6"/>
<line x1="1441" y1="931.1" x2="1435" y2="931.1"/>
<line x1="1441" y1="964.5" x2="1435" y2="964.5"/>
<line x1="1441" y1="998" x2="1435" y2="998"/>
<line x1="1441" y1="1031.5" x2="1430" y2="1031.5"/>
<line x1="1441" y1="1064.9" x2="1435" y2="1064.9"/>
<line x1="1441" y1="1098.4" x2="1435" y2="1098.4"/>
<line x1="1441" y1="1131.9" x2="1435" y2="1131.9"/>
<line x1="1441" y1="1165.3" x2="1430" y2="1165.3"/>
<line x1="1441" y1="1198.8" x2="1435" y2="1198.8"/>
<line x1="1441" y1="1232.3" x2="1435" y2="1232.3"/>
<line x1="1441" y1="1265.8" x2="1435" y2="1265.8"/>
<line x1="1441" y1="1299.2" x2="1430" y2="1299.2"/>
<line x1="1441" y1="1332.7" x2="1435" y2="1332.7"/>
<line x1="1441" y1="1366.2" x2="1435" y2="1366.2"/>
</g>
<path d="M837,767.5 C847.5,767.5 881.2,767.5 900,767.6 C918.8,767.7 937,767.4 950,768.2 C963,769 968.5,769.8 978,772.5 C987.5,775.2 997.3,779.3 1007,784.6 C1016.7,789.9 1026.7,796.7 1036,804.4 C1045.3,812.1 1052.5,819.1 1063,830.7 C1073.5,842.3 1087.8,859.8 1098.8,874 C1109.8,888.2 1118.9,901.9 1128.8,916 C1138.7,930.1 1148.6,944.3 1158.2,958.4 C1167.8,972.5 1177.2,986.4 1186.4,1000.6 C1195.6,1014.9 1204.5,1030 1213.6,1043.9 C1222.6,1057.8 1231.7,1070.2 1240.7,1084.1 C1249.8,1098 1259.2,1113.5 1267.9,1127.4 C1276.6,1141.3 1285.3,1155.7 1293,1167.6 C1300.7,1179.5 1306,1186.4 1314.3,1198.7 C1322.6,1211 1335.1,1229.9 1343.1,1241.4 C1351.1,1253 1355.3,1258.6 1362.3,1268 C1369.2,1277.4 1377,1288.3 1384.8,1297.9 C1392.6,1307.5 1400.8,1316.3 1409.3,1325.7 C1417.8,1335.1 1431.5,1349.7 1436,1354.5" fill="none" stroke="#111" stroke-width="3.6" stroke-dasharray="3.4 13" />
<path d="M837,1396.5 C847.5,1396.5 878.9,1396.8 900,1396.3 C921.1,1395.8 948,1395.6 963.8,1393.5 C979.6,1391.4 983.8,1388.9 995,1383.5 C1006.2,1378.1 1020.1,1369.3 1031.2,1361.3 C1042.3,1353.2 1051.7,1345.2 1061.4,1335.2 C1071.1,1325.2 1079.5,1313.8 1089.6,1301 C1099.7,1288.2 1111.4,1272.8 1121.8,1258.7 C1132.2,1244.6 1141,1233 1151.9,1216.5 C1162.8,1200 1174.9,1178.5 1187,1160 C1199.1,1141.5 1207.9,1130.8 1224.6,1105.2 C1241.3,1079.6 1267.2,1037.5 1287,1006.6 C1306.8,975.8 1328.2,942.2 1343.4,920.1 C1358.6,898 1367.1,887.9 1378,874 C1388.9,860.1 1398.6,848.4 1408.9,836.8 C1419.2,825.2 1434.7,810 1439.8,804.6" fill="none" stroke="#f04a28" stroke-width="2.6"/>
<g stroke="#0a0a0a" stroke-width="3.6">
<line x1="900.5" y1="765" x2="900.5" y2="1004.5"/>
<line x1="895" y1="1004.5" x2="906" y2="1004.5" stroke-width="3.4"/>
<line x1="1091.2" y1="857" x2="1091.2" y2="1052.5"/>
<line x1="1085.7" y1="857" x2="1096.7" y2="857" stroke-width="3.4"/>
<line x1="1085.7" y1="1052.5" x2="1096.7" y2="1052.5" stroke-width="3.4"/>
<line x1="1160.8" y1="933.2" x2="1160.8" y2="1156.5"/>
<line x1="1155.3" y1="933.2" x2="1166.3" y2="933.2" stroke-width="3.4"/>
<line x1="1155.3" y1="1156.5" x2="1166.3" y2="1156.5" stroke-width="3.4"/>
<line x1="1224.6" y1="957.3" x2="1224.6" y2="1157.2"/>
<line x1="1219.1" y1="957.3" x2="1230.1" y2="957.3" stroke-width="3.4"/>
<line x1="1219.1" y1="1157.2" x2="1230.1" y2="1157.2" stroke-width="3.4"/>
<line x1="1282" y1="1141.5" x2="1282" y2="1179.6"/>
<line x1="1276.5" y1="1141.5" x2="1287.5" y2="1141.5" stroke-width="3.4"/>
<line x1="1276.5" y1="1179.6" x2="1287.5" y2="1179.6" stroke-width="3.4"/>
<line x1="1345.4" y1="1090.2" x2="1345.4" y2="1294.7"/>
<line x1="1339.9" y1="1090.2" x2="1350.9" y2="1090.2" stroke-width="3.4"/>
<line x1="1339.9" y1="1294.7" x2="1350.9" y2="1294.7" stroke-width="3.4"/>
<line x1="1409" y1="1092.2" x2="1409" y2="1323.5"/>
<line x1="1403.5" y1="1092.2" x2="1414.5" y2="1092.2" stroke-width="3.4"/>
<line x1="1403.5" y1="1323.5" x2="1414.5" y2="1323.5" stroke-width="3.4"/>
</g>
<g fill="none" stroke="#4c6270" stroke-width="1.4">
<circle cx="900.5" cy="877" r="5.5"/>
<circle cx="1091.2" cy="954.9" r="5.5"/>
<circle cx="1160.8" cy="1044.9" r="5.5"/>
<circle cx="1224.6" cy="1056.5" r="5.5"/>
<circle cx="1282" cy="1161" r="5.5"/>
<circle cx="1345.4" cy="1192" r="5.5"/>
<circle cx="1409" cy="1207.2" r="5.5"/>
<circle cx="837.2" cy="763.7" r="5.5"/>
</g>
<g stroke="#ee3b2c" stroke-width="3">
<line x1="900.8" y1="1352.3" x2="900.8" y2="1398"/>
<line x1="895.3" y1="1352.3" x2="906.3" y2="1352.3" stroke-width="2.6"/>
<line x1="1091.6" y1="1285.9" x2="1091.6" y2="1353.3"/>
<line x1="1086.1" y1="1285.9" x2="1097.1" y2="1285.9" stroke-width="2.6"/>
<line x1="1086.1" y1="1353.3" x2="1097.1" y2="1353.3" stroke-width="2.6"/>
<line x1="1154.3" y1="1173.2" x2="1154.3" y2="1241.6"/>
<line x1="1148.8" y1="1173.2" x2="1159.8" y2="1173.2" stroke-width="2.6"/>
<line x1="1148.8" y1="1241.6" x2="1159.8" y2="1241.6" stroke-width="2.6"/>
<line x1="1218" y1="1109.3" x2="1218" y2="1175.7"/>
<line x1="1212.5" y1="1109.3" x2="1223.5" y2="1109.3" stroke-width="2.6"/>
<line x1="1212.5" y1="1175.7" x2="1223.5" y2="1175.7" stroke-width="2.6"/>
<line x1="1282" y1="1003.6" x2="1282" y2="1071"/>
<line x1="1276.5" y1="1003.6" x2="1287.5" y2="1003.6" stroke-width="2.6"/>
<line x1="1276.5" y1="1071" x2="1287.5" y2="1071" stroke-width="2.6"/>
<line x1="1345.3" y1="850.3" x2="1345.3" y2="918.1"/>
<line x1="1339.8" y1="850.3" x2="1350.8" y2="850.3" stroke-width="2.6"/>
<line x1="1339.8" y1="918.1" x2="1350.8" y2="918.1" stroke-width="2.6"/>
<line x1="1409.7" y1="817.5" x2="1409.7" y2="884.6"/>
<line x1="1404.2" y1="817.5" x2="1415.2" y2="817.5" stroke-width="2.6"/>
<line x1="1404.2" y1="884.6" x2="1415.2" y2="884.6" stroke-width="2.6"/>
</g>
<g fill="#ee3b2c">
<rect x="831.9" y="1394.1" width="11" height="11"/>
<rect x="895.3" y="1381" width="11" height="11"/>
<rect x="1086.1" y="1315.6" width="11" height="11"/>
<rect x="1148.8" y="1201.9" width="11" height="11"/>
<rect x="1212.5" y="1138" width="11" height="11"/>
<rect x="1276.5" y="1032.3" width="11" height="11"/>
<rect x="1339.8" y="878.3" width="11" height="11"/>
<rect x="1404.2" y="846.9" width="11" height="11"/>
</g>
<rect x="837.2" y="763.7" width="603.8" height="635.8" fill="none" stroke="#231515" stroke-width="2.4"/>
<line x1="1109.8" y1="814.8" x2="1239.6" y2="814.8" stroke="#0a0a0a" stroke-width="5.5" stroke-dasharray="7.5 6" />
<polygon points="1262.7,814.8 1229.7,826.2 1229.7,803.4" fill="#0a0a0a"/>
<line x1="1074.5" y1="1278.8" x2="932.2" y2="1278.8" stroke="#ee2a22" stroke-width="4.5" />
<polygon points="910.5,1278.8 941.5,1268 941.5,1289.6" fill="#ee2a22"/>
<g class="san" fill="#0a0a0a" stroke="#0a0a0a" stroke-width="0.5">
<text x="837.2" y="742.7" font-size="33" text-anchor="middle">2</text>
<text x="837.2" y="1436.5" font-size="33" text-anchor="middle">2</text>
<text x="964.3" y="742.7" font-size="33" text-anchor="middle">4</text>
<text x="964.3" y="1436.5" font-size="33" text-anchor="middle">4</text>
<text x="1091.4" y="742.7" font-size="33" text-anchor="middle">6</text>
<text x="1091.4" y="1436.5" font-size="33" text-anchor="middle">6</text>
<text x="1218.4" y="742.7" font-size="33" text-anchor="middle">8</text>
<text x="1218.4" y="1436.5" font-size="33" text-anchor="middle">8</text>
<text x="1345.5" y="742.7" font-size="33" text-anchor="middle">10</text>
<text x="1345.5" y="1436.5" font-size="33" text-anchor="middle">10</text>
<text x="820" y="1408.3" font-size="33" text-anchor="end">0</text>
<text x="820" y="1274.4" font-size="33" text-anchor="end">0.4</text>
<text x="820" y="1140.5" font-size="33" text-anchor="end">0.8</text>
<text x="820" y="1006.7" font-size="33" text-anchor="end">1.2</text>
<text x="820" y="872.8" font-size="33" text-anchor="end">1.6</text>
<text x="1455.5" y="773.2" font-size="33">0</text>
<text x="1455.5" y="907.1" font-size="33">-0.4</text>
<text x="1455.5" y="1041" font-size="33">-0.8</text>
<text x="1455.5" y="1174.8" font-size="33">-1.2</text>
<text x="1455.5" y="1308.7" font-size="33">-1.6</text>
<text x="1132.5" y="1491.5" font-size="35.5">pH</text>
<text x="1155" y="869.3" font-size="35.5">COOH</text>
<text transform="translate(727.8,1054) rotate(-90)" font-size="35.5" text-anchor="middle"><tspan font-style="italic">N</tspan><tspan dx="6" dy="17" font-size="25">COO&#8211;</tspan><tspan dy="-17">&#160;(10</tspan><tspan dy="-15" font-size="24">14</tspan><tspan dy="15">&#160;cm</tspan><tspan dy="-15" font-size="24">-2</tspan><tspan dy="15">)</tspan></text>
<text transform="translate(1562.5,1062.4) rotate(-90)" font-size="35.5" text-anchor="middle"><tspan font-style="italic">&#916;N</tspan><tspan dx="2" dy="17" font-size="25">COOH</tspan><tspan dy="-17">&#160;(10</tspan><tspan dy="-15" font-size="24">14</tspan><tspan dy="15">&#160;cm</tspan><tspan dy="-15" font-size="24">-2</tspan><tspan dy="15">)</tspan></text>
</g>
<text class="san" x="964.5" y="1341.4" font-size="33" fill="#ea3f26" stroke="#ea3f26" stroke-width="0.4">COO<tspan dx="3" dy="-19" font-size="21">&#8211;</tspan></text>
</svg>
</body></html>
